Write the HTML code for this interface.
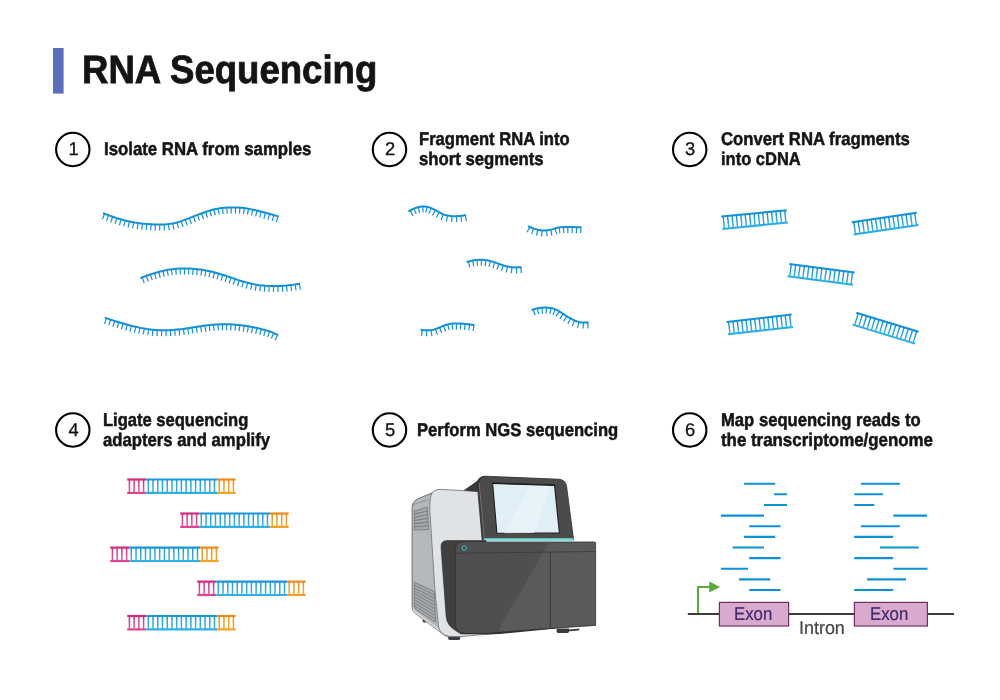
<!DOCTYPE html>
<html lang="en">
<head>
<meta charset="utf-8">
<title>RNA Sequencing</title>
<style>
html,body{margin:0;padding:0;background:#fff;}
body{width:1000px;height:700px;position:relative;overflow:hidden;font-family:"Liberation Sans",sans-serif;}
svg{position:absolute;left:0;top:0;}
.t{position:absolute;white-space:nowrap;color:#141414;transform-origin:0 0;text-rendering:geometricPrecision;}
#txt{position:absolute;left:0;top:0;width:1000px;height:700px;will-change:transform;}
.title{-webkit-text-stroke:0.8px #141414;font-weight:bold;font-size:39.5px;line-height:46px;}
.lab{-webkit-text-stroke:0.5px #141414;font-weight:bold;font-size:18.4px;line-height:20px;}
.num{-webkit-text-stroke:0.3px #111;width:34px;text-align:center;font-size:18.4px;line-height:20px;color:#111;}
.exon{-webkit-text-stroke:0.2px #3f2a6d;font-size:18.4px;line-height:20px;color:#3f2a6d;}
.intron{-webkit-text-stroke:0.2px #444;font-size:18.4px;line-height:20px;color:#444;}
</style>
</head>
<body>
<svg width="1000" height="700" viewBox="0 0 1000 700">
<defs>
<linearGradient id="lg" gradientUnits="userSpaceOnUse" x1="0" y1="0" x2="0" y2="12.4"><stop offset="0" stop-color="#1290d9"/><stop offset="1" stop-color="#38b6e8"/></linearGradient>
<linearGradient id="gb" gradientUnits="userSpaceOnUse" x1="0" y1="0" x2="0" y2="13.4"><stop offset="0" stop-color="#1e98dc"/><stop offset="1" stop-color="#3fb8ea"/></linearGradient>
<linearGradient id="gp" gradientUnits="userSpaceOnUse" x1="0" y1="0" x2="0" y2="13.4"><stop offset="0" stop-color="#d42d7c"/><stop offset="1" stop-color="#e85a9c"/></linearGradient>
<linearGradient id="go" gradientUnits="userSpaceOnUse" x1="0" y1="0" x2="0" y2="13.4"><stop offset="0" stop-color="#ee8a1c"/><stop offset="1" stop-color="#f8ae2c"/></linearGradient>
</defs>
<rect x="53" y="48" width="10.6" height="45.6" fill="#5b6ebf"/>
<circle cx="72.8" cy="149.5" r="16.7" fill="#fff" stroke="#000" stroke-width="2.1"/>
<circle cx="389.5" cy="149.5" r="16.7" fill="#fff" stroke="#000" stroke-width="2.1"/>
<circle cx="689.7" cy="149.5" r="16.7" fill="#fff" stroke="#000" stroke-width="2.1"/>
<circle cx="72.8" cy="430.0" r="16.7" fill="#fff" stroke="#000" stroke-width="2.1"/>
<circle cx="389.5" cy="430.0" r="16.7" fill="#fff" stroke="#000" stroke-width="2.1"/>
<circle cx="689.7" cy="430.0" r="16.7" fill="#fff" stroke="#000" stroke-width="2.1"/>
<g id="p1">
<path d="M102.85 213.10 L104.57 213.74 L106.93 214.63 L109.74 215.68 L112.81 216.79 L115.96 217.87 L119.00 218.80 L122.00 219.63 L125.12 220.44 L128.32 221.22 L131.56 221.93 L134.80 222.57 L138.00 223.10 L141.25 223.52 L144.61 223.85 L147.97 224.09 L151.23 224.27 L154.27 224.40 L157.00 224.50 L159.34 224.56 L161.36 224.58 L163.17 224.54 L164.88 224.46 L166.59 224.31 L168.40 224.10 L170.26 223.84 L172.06 223.54 L173.86 223.18 L175.72 222.75 L177.68 222.23 L179.80 221.60 L182.11 220.83 L184.59 219.93 L187.16 218.94 L189.79 217.90 L192.42 216.88 L195.00 215.90 L197.58 214.93 L200.21 213.93 L202.84 212.94 L205.41 211.99 L207.89 211.13 L210.20 210.40 L212.32 209.81 L214.28 209.34 L216.14 208.95 L217.94 208.63 L219.74 208.35 L221.60 208.10 L223.50 207.87 L225.40 207.70 L227.30 207.56 L229.20 207.47 L231.10 207.42 L233.00 207.40 L234.86 207.41 L236.66 207.44 L238.46 207.51 L240.32 207.64 L242.28 207.83 L244.40 208.10 L246.67 208.45 L249.04 208.87 L251.53 209.36 L254.11 209.91 L256.80 210.53 L259.60 211.20 L262.77 212.02 L266.36 213.00 L270.05 214.04 L273.53 215.04 L276.49 215.90 L278.60 216.50" fill="none" stroke="#1290d9" stroke-width="2.00" stroke-linejoin="round"/><path d="M104.54 213.72L102.46 219.35 M108.61 215.26L106.51 220.88 M112.70 216.75L110.66 222.40 M116.83 218.13L115.07 223.87 M121.01 219.36L119.41 225.14 M125.22 220.47L123.81 226.30 M129.46 221.47L128.17 227.33 M133.72 222.36L132.57 228.25 M138.01 223.10L137.24 229.05 M142.34 223.63L141.76 229.60 M146.68 224.00L146.24 229.98 M151.02 224.26L150.69 230.25 M155.37 224.44L155.16 230.44 M159.73 224.56L159.68 230.56 M164.08 224.50L164.39 230.49 M168.42 224.10L169.24 230.04 M172.71 223.41L173.89 229.29 M176.95 222.42L178.50 228.22 M181.12 221.16L183.01 226.86 M185.22 219.69L187.37 225.29 M189.28 218.11L191.47 223.69 M193.34 216.53L195.46 222.14 M197.41 215.00L199.52 220.62 M201.48 213.45L203.61 219.06 M205.57 211.94L207.54 217.60 M209.70 210.56L211.50 216.28 M213.90 209.43L215.32 215.26 M218.18 208.59L219.08 214.52 M222.49 207.99L223.20 213.95 M226.82 207.60L227.25 213.58 M231.17 207.42L231.23 213.42 M235.53 207.42L235.42 213.42 M239.88 207.61L239.48 213.59 M244.21 208.08L243.45 214.03 M248.51 208.78L247.46 214.69 M252.78 209.63L251.52 215.50 M257.03 210.58L255.62 216.42 M261.25 211.63L259.75 217.44 M265.46 212.75L263.87 218.54 M269.65 213.93L268.02 219.71 M273.84 215.13L272.17 220.90 M278.02 216.34L276.38 222.11" fill="none" stroke="#1290d9" stroke-width="1.20"/>
<path d="M140.45 278.00 L141.76 277.52 L143.55 276.85 L145.68 276.06 L148.01 275.22 L150.43 274.39 L152.80 273.65 L155.19 272.96 L157.73 272.25 L160.34 271.56 L162.97 270.91 L165.54 270.34 L168.00 269.85 L170.33 269.46 L172.57 269.15 L174.77 268.91 L176.94 268.73 L179.11 268.60 L181.30 268.50 L183.49 268.44 L185.66 268.43 L187.83 268.47 L190.03 268.56 L192.27 268.70 L194.60 268.90 L197.02 269.15 L199.53 269.45 L202.08 269.80 L204.66 270.21 L207.24 270.68 L209.80 271.20 L212.33 271.80 L214.87 272.47 L217.40 273.20 L219.93 273.96 L222.47 274.75 L225.00 275.55 L227.53 276.38 L230.07 277.26 L232.60 278.16 L235.13 279.05 L237.67 279.91 L240.20 280.70 L242.73 281.44 L245.27 282.15 L247.80 282.83 L250.33 283.45 L252.87 284.02 L255.40 284.50 L257.93 284.91 L260.47 285.24 L263.00 285.51 L265.53 285.73 L268.07 285.89 L270.60 286.00 L273.14 286.06 L275.70 286.06 L278.26 286.01 L280.80 285.91 L283.32 285.78 L285.80 285.60 L288.39 285.35 L291.15 285.01 L293.88 284.62 L296.39 284.25 L298.51 283.92 L300.05 283.70" fill="none" stroke="#1290d9" stroke-width="2.00" stroke-linejoin="round"/><path d="M142.14 277.38L144.24 283.00 M146.22 275.87L148.25 281.51 M150.32 274.43L152.26 280.11 M154.48 273.16L156.15 278.93 M158.67 272.00L160.20 277.81 M162.88 270.94L164.32 276.76 M167.13 270.02L168.30 275.91 M171.42 269.31L172.24 275.26 M175.74 268.83L176.25 274.81 M180.08 268.55L180.34 274.55 M184.43 268.44L184.45 274.44 M188.77 268.51L188.53 274.51 M193.11 268.77L192.61 274.75 M197.44 269.20L196.72 275.16 M201.75 269.76L200.93 275.70 M206.04 270.46L204.98 276.36 M210.30 271.32L208.93 277.16 M214.52 272.38L212.98 278.18 M218.69 273.59L216.95 279.33 M222.85 274.87L221.05 280.60 M226.99 276.20L225.12 281.90 M231.10 277.62L229.08 283.28 M235.19 279.07L233.27 284.76 M239.33 280.43L237.54 286.16 M243.50 281.65L241.87 287.43 M247.69 282.80L246.14 288.60 M251.92 283.81L250.62 289.66 M256.19 284.63L255.24 290.55 M260.49 285.24L259.85 291.21 M264.82 285.67L264.32 291.64 M269.16 285.94L268.89 291.93 M273.50 286.06L273.50 292.06 M277.85 286.02L277.97 292.02 M282.20 285.84L282.53 291.83 M286.53 285.53L287.11 291.50 M290.85 285.04L291.59 291.00 M295.16 284.43L296.05 290.37 M299.46 283.79L300.32 289.72" fill="none" stroke="#1290d9" stroke-width="1.20"/>
<path d="M104.75 317.60 L106.29 318.12 L108.41 318.84 L110.92 319.69 L113.65 320.60 L116.41 321.49 L119.00 322.30 L121.48 323.04 L124.00 323.79 L126.54 324.52 L129.10 325.22 L131.66 325.88 L134.20 326.50 L136.73 327.08 L139.27 327.62 L141.80 328.13 L144.33 328.59 L146.87 329.00 L149.40 329.35 L151.93 329.64 L154.47 329.88 L157.00 330.06 L159.53 330.19 L162.07 330.27 L164.60 330.30 L167.13 330.27 L169.67 330.17 L172.20 330.02 L174.73 329.83 L177.27 329.61 L179.80 329.35 L182.33 329.05 L184.87 328.69 L187.40 328.30 L189.93 327.89 L192.47 327.48 L195.00 327.10 L197.53 326.73 L200.07 326.34 L202.60 325.96 L205.13 325.60 L207.67 325.27 L210.20 325.00 L212.73 324.77 L215.27 324.57 L217.80 324.41 L220.33 324.29 L222.87 324.21 L225.40 324.20 L227.93 324.24 L230.47 324.34 L233.00 324.49 L235.53 324.68 L238.07 324.92 L240.60 325.20 L243.16 325.53 L245.74 325.92 L248.32 326.35 L250.87 326.81 L253.38 327.30 L255.80 327.80 L258.18 328.32 L260.53 328.87 L262.83 329.45 L265.05 330.04 L267.15 330.64 L269.10 331.25 L270.97 331.91 L272.78 332.63 L274.48 333.37 L276.00 334.05 L277.26 334.63 L278.20 335.05" fill="none" stroke="#1290d9" stroke-width="2.00" stroke-linejoin="round"/><path d="M106.46 318.17L104.53 323.86 M110.59 319.57L108.67 325.26 M114.73 320.95L112.88 326.65 M118.89 322.27L117.11 327.99 M123.07 323.51L121.37 329.27 M127.27 324.72L125.68 330.50 M131.48 325.84L129.97 331.65 M135.73 326.85L134.40 332.70 M139.99 327.77L138.81 333.65 M144.28 328.58L143.20 334.48 M148.59 329.24L147.77 335.18 M152.93 329.73L152.37 335.71 M157.28 330.08L156.97 336.07 M161.64 330.26L161.45 336.26 M166.00 330.28L166.08 336.28 M170.36 330.13L170.71 336.12 M174.72 329.83L175.17 335.82 M179.06 329.42L179.66 335.39 M183.39 328.90L184.23 334.84 M187.71 328.25L188.66 334.17 M192.01 327.55L192.96 333.48 M196.33 326.90L197.20 332.84 M200.64 326.25L201.54 332.19 M204.96 325.62L205.81 331.56 M209.29 325.10L209.94 331.06 M213.64 324.70L214.11 330.68 M217.99 324.40L218.28 330.39 M222.35 324.23L222.52 330.23 M226.72 324.22L226.61 330.22 M231.08 324.38L230.73 330.37 M235.43 324.67L234.97 330.66 M239.77 325.11L239.11 331.07 M244.10 325.67L243.21 331.61 M248.41 326.36L247.33 332.27 M252.69 327.17L251.55 333.06 M256.97 328.06L255.68 333.92 M261.22 329.05L259.76 334.87 M265.44 330.15L263.78 335.92 M269.61 331.43L267.62 337.09 M273.67 333.02L271.29 338.52 M277.65 334.81L275.22 340.29" fill="none" stroke="#1290d9" stroke-width="1.20"/>
</g>
<g id="p2">
<path d="M408.50 211.60 L409.19 211.20 L410.13 210.63 L411.25 209.96 L412.48 209.26 L413.75 208.62 L415.00 208.10 L416.26 207.68 L417.59 207.29 L418.97 206.96 L420.35 206.69 L421.71 206.49 L423.00 206.40 L424.22 206.41 L425.41 206.50 L426.56 206.68 L427.70 206.92 L428.84 207.23 L430.00 207.60 L431.17 208.05 L432.33 208.60 L433.50 209.21 L434.67 209.85 L435.83 210.49 L437.00 211.10 L438.16 211.71 L439.30 212.34 L440.44 212.97 L441.59 213.58 L442.78 214.13 L444.00 214.60 L445.28 214.99 L446.59 215.31 L447.94 215.58 L449.30 215.80 L450.66 215.97 L452.00 216.10 L453.36 216.17 L454.74 216.18 L456.12 216.14 L457.48 216.07 L458.78 215.99 L460.00 215.90 L461.19 215.79 L462.37 215.65 L463.50 215.49 L464.52 215.33 L465.37 215.19 L466.00 215.10" fill="none" stroke="#1290d9" stroke-width="2.00" stroke-linejoin="round"/><path d="M410.05 210.68L413.17 215.80 M413.97 208.53L416.28 214.07 M418.22 207.14L419.65 212.97 M422.64 206.43L423.08 212.41 M427.09 206.79L425.82 212.65 M431.35 208.14L428.81 213.57 M435.32 210.21L432.43 215.47 M439.27 212.33L436.36 217.57 M443.28 214.32L441.14 219.93 M447.59 215.51L446.41 221.39 M452.03 216.10L451.71 222.09 M456.50 216.12L456.81 222.12 M460.97 215.81L461.51 221.79 M465.41 215.19L466.29 221.12" fill="none" stroke="#1290d9" stroke-width="1.20"/>
<path d="M528.00 226.10 L528.65 226.38 L529.56 226.79 L530.62 227.26 L531.78 227.75 L532.93 228.21 L534.00 228.60 L535.01 228.92 L536.04 229.22 L537.06 229.49 L538.07 229.73 L539.06 229.93 L540.00 230.10 L540.87 230.23 L541.67 230.34 L542.44 230.41 L543.22 230.44 L544.06 230.44 L545.00 230.40 L546.06 230.32 L547.22 230.19 L548.44 230.03 L549.67 229.84 L550.87 229.63 L552.00 229.40 L553.06 229.13 L554.07 228.81 L555.06 228.47 L556.04 228.13 L557.01 227.83 L558.00 227.60 L558.98 227.44 L559.93 227.32 L560.88 227.24 L561.85 227.18 L562.88 227.14 L564.00 227.10 L565.20 227.07 L566.46 227.06 L567.78 227.06 L569.15 227.07 L570.56 227.08 L572.00 227.10 L573.61 227.12 L575.41 227.16 L577.25 227.20 L578.98 227.24 L580.45 227.28 L581.50 227.30" fill="none" stroke="#1290d9" stroke-width="2.00" stroke-linejoin="round"/><path d="M529.65 226.83L527.23 232.32 M533.67 228.48L531.62 234.12 M537.85 229.67L536.47 235.51 M542.14 230.38L541.60 236.36 M546.48 230.27L547.12 236.24 M550.78 229.64L551.83 235.55 M554.97 228.50L556.93 234.17 M559.17 227.41L559.90 233.37 M563.51 227.12L563.72 233.11 M567.85 227.06L567.81 233.06 M572.20 227.10L572.11 233.10 M576.55 227.18L576.42 233.18 M580.90 227.29L580.76 233.28" fill="none" stroke="#1290d9" stroke-width="1.20"/>
<path d="M466.50 262.10 L467.20 261.90 L468.17 261.62 L469.31 261.29 L470.56 260.95 L471.81 260.64 L473.00 260.40 L474.14 260.22 L475.30 260.08 L476.47 259.96 L477.65 259.88 L478.83 259.82 L480.00 259.80 L481.17 259.80 L482.33 259.84 L483.50 259.90 L484.67 260.00 L485.83 260.13 L487.00 260.30 L488.17 260.52 L489.33 260.78 L490.50 261.07 L491.67 261.40 L492.83 261.74 L494.00 262.10 L495.17 262.48 L496.33 262.90 L497.50 263.34 L498.67 263.78 L499.83 264.20 L501.00 264.60 L502.17 264.98 L503.33 265.35 L504.50 265.71 L505.67 266.04 L506.83 266.34 L508.00 266.60 L509.17 266.82 L510.35 267.00 L511.53 267.14 L512.70 267.26 L513.86 267.34 L515.00 267.40 L516.19 267.41 L517.44 267.37 L518.69 267.30 L519.83 267.22 L520.80 267.15 L521.50 267.10" fill="none" stroke="#1290d9" stroke-width="2.00" stroke-linejoin="round"/><path d="M468.23 261.60L469.89 267.36 M472.58 260.49L473.76 266.37 M477.03 259.92L477.46 265.91 M481.52 259.81L481.35 265.81 M485.99 260.15L485.12 266.09 M490.39 261.05L488.91 266.86 M494.70 262.33L492.83 268.03 M498.92 263.87L496.86 269.50 M503.17 265.30L501.35 271.01 M507.50 266.49L506.20 272.35 M511.94 267.18L511.35 273.15 M516.42 267.40L516.61 273.40 M520.90 267.14L521.29 273.13" fill="none" stroke="#1290d9" stroke-width="1.20"/>
<path d="M420.50 329.80 L421.09 329.86 L421.91 329.96 L422.88 330.06 L423.93 330.17 L424.99 330.25 L426.00 330.30 L426.97 330.33 L427.96 330.35 L428.97 330.36 L429.98 330.33 L430.99 330.25 L432.00 330.10 L433.00 329.88 L434.00 329.59 L435.00 329.24 L436.00 328.87 L437.00 328.48 L438.00 328.10 L439.00 327.70 L440.00 327.27 L441.00 326.83 L442.00 326.39 L443.00 325.98 L444.00 325.60 L444.99 325.26 L445.96 324.93 L446.94 324.62 L447.93 324.35 L448.94 324.10 L450.00 323.90 L451.10 323.74 L452.22 323.61 L453.38 323.51 L454.56 323.45 L455.76 323.41 L457.00 323.40 L458.26 323.42 L459.54 323.47 L460.84 323.54 L462.19 323.64 L463.57 323.76 L465.00 323.90 L466.61 324.07 L468.41 324.29 L470.25 324.53 L471.98 324.76 L473.45 324.96 L474.50 325.10" fill="none" stroke="#1290d9" stroke-width="2.00" stroke-linejoin="round"/><path d="M422.29 330.00L421.63 335.96 M426.68 330.32L426.51 336.32 M431.08 330.23L431.94 336.17 M435.33 329.12L437.42 334.74 M439.43 327.52L441.79 333.03 M443.48 325.80L445.59 331.41 M447.66 324.42L449.28 330.20 M451.99 323.63L452.67 329.60 M456.38 323.41L456.44 329.41 M460.78 323.54L460.43 329.53 M465.17 323.92L464.52 329.88 M469.54 324.44L468.77 330.39 M473.91 325.02L473.12 330.97" fill="none" stroke="#1290d9" stroke-width="1.20"/>
<path d="M531.50 310.10 L532.08 309.90 L532.87 309.63 L533.81 309.30 L534.85 308.96 L535.93 308.65 L537.00 308.40 L538.08 308.20 L539.22 308.02 L540.41 307.86 L541.61 307.74 L542.82 307.65 L544.00 307.60 L545.18 307.59 L546.37 307.61 L547.56 307.68 L548.74 307.77 L549.89 307.91 L551.00 308.10 L552.06 308.33 L553.07 308.59 L554.06 308.90 L555.04 309.25 L556.01 309.65 L557.00 310.10 L558.00 310.62 L559.00 311.20 L560.00 311.84 L561.00 312.50 L562.00 313.16 L563.00 313.80 L564.00 314.44 L565.00 315.09 L566.00 315.74 L567.00 316.39 L568.00 317.01 L569.00 317.60 L570.00 318.16 L571.00 318.70 L572.00 319.23 L573.00 319.72 L574.00 320.18 L575.00 320.60 L575.98 320.99 L576.94 321.35 L577.91 321.68 L578.89 321.96 L579.91 322.21 L581.00 322.40 L582.25 322.53 L583.67 322.59 L585.12 322.61 L586.50 322.61 L587.67 322.60 L588.50 322.60" fill="none" stroke="#1290d9" stroke-width="2.00" stroke-linejoin="round"/><path d="M533.20 309.51L535.16 315.18 M537.53 308.30L538.62 314.20 M541.98 307.71L542.42 313.69 M546.47 307.62L546.17 313.61 M550.94 308.09L549.95 314.01 M555.25 309.34L552.98 314.89 M559.26 311.37L556.04 316.43 M563.03 313.82L559.80 318.88 M566.80 316.26L563.55 321.30 M570.68 318.53L567.81 323.80 M574.72 320.48L572.39 326.01 M578.96 321.98L577.57 327.82 M583.40 322.58L583.13 328.57 M587.90 322.60L587.88 328.60" fill="none" stroke="#1290d9" stroke-width="1.20"/>
</g>
<g id="p3">
<g transform="translate(721.20 216.60) rotate(-5.58)"><path d="M2.00 0V12.40 M6.42 0V12.40 M10.83 0V12.40 M15.25 0V12.40 M19.66 0V12.40 M24.08 0V12.40 M28.49 0V12.40 M32.91 0V12.40 M37.32 0V12.40 M41.74 0V12.40 M46.15 0V12.40 M50.57 0V12.40 M54.98 0V12.40 M59.40 0V12.40 M63.81 0V12.40" stroke="url(#lg)" stroke-width="1.45" fill="none"/><path d="M0 0H65.81" stroke="#1290d9" stroke-width="2.00"/><path d="M0 12.40H65.81" stroke="#2dade5" stroke-width="2.00"/></g>
<g transform="translate(851.80 222.30) rotate(-8.33)"><path d="M2.00 0V12.40 M6.40 0V12.40 M10.80 0V12.40 M15.20 0V12.40 M19.60 0V12.40 M24.00 0V12.40 M28.40 0V12.40 M32.80 0V12.40 M37.20 0V12.40 M41.59 0V12.40 M45.99 0V12.40 M50.39 0V12.40 M54.79 0V12.40 M59.19 0V12.40 M63.59 0V12.40" stroke="url(#lg)" stroke-width="1.45" fill="none"/><path d="M0 0H65.59" stroke="#1290d9" stroke-width="2.00"/><path d="M0 12.40H65.59" stroke="#2dade5" stroke-width="2.00"/></g>
<g transform="translate(789.30 264.00) rotate(7.42)"><path d="M2.00 0V12.40 M6.42 0V12.40 M10.84 0V12.40 M15.25 0V12.40 M19.67 0V12.40 M24.09 0V12.40 M28.51 0V12.40 M32.93 0V12.40 M37.34 0V12.40 M41.76 0V12.40 M46.18 0V12.40 M50.60 0V12.40 M55.02 0V12.40 M59.43 0V12.40 M63.85 0V12.40" stroke="url(#lg)" stroke-width="1.45" fill="none"/><path d="M0 0H65.85" stroke="#1290d9" stroke-width="2.00"/><path d="M0 12.40H65.85" stroke="#2dade5" stroke-width="2.00"/></g>
<g transform="translate(726.60 322.00) rotate(-6.49)"><path d="M2.00 0V12.40 M6.39 0V12.40 M10.77 0V12.40 M15.16 0V12.40 M19.55 0V12.40 M23.94 0V12.40 M28.32 0V12.40 M32.71 0V12.40 M37.10 0V12.40 M41.48 0V12.40 M45.87 0V12.40 M50.26 0V12.40 M54.65 0V12.40 M59.03 0V12.40 M63.42 0V12.40" stroke="url(#lg)" stroke-width="1.45" fill="none"/><path d="M0 0H65.42" stroke="#1290d9" stroke-width="2.00"/><path d="M0 12.40H65.42" stroke="#2dade5" stroke-width="2.00"/></g>
<g transform="translate(856.30 312.80) rotate(16.96)"><path d="M2.00 0V12.40 M6.37 0V12.40 M10.73 0V12.40 M15.10 0V12.40 M19.47 0V12.40 M23.83 0V12.40 M28.20 0V12.40 M32.57 0V12.40 M36.93 0V12.40 M41.30 0V12.40 M45.67 0V12.40 M50.03 0V12.40 M54.40 0V12.40 M58.77 0V12.40 M63.13 0V12.40" stroke="url(#lg)" stroke-width="1.45" fill="none"/><path d="M0 0H65.13" stroke="#1290d9" stroke-width="2.00"/><path d="M0 12.40H65.13" stroke="#2dade5" stroke-width="2.00"/></g>
</g>
<g id="p4">
<g transform="translate(127.20 479.50)"><path d="M2.20 0V13.40 M6.93 0V13.40 M11.65 0V13.40 M16.38 0V13.40" stroke="url(#gp)" stroke-width="1.5" fill="none"/><path d="M0.00 0H19.05" stroke="#d42a7b" stroke-width="2.2"/><path d="M0.00 13.40H19.05" stroke="#e0448e" stroke-width="2.2"/><path d="M21.11 0V13.40 M25.84 0V13.40 M30.56 0V13.40 M35.29 0V13.40 M40.02 0V13.40 M44.75 0V13.40 M49.47 0V13.40 M54.20 0V13.40 M58.93 0V13.40 M63.65 0V13.40 M68.38 0V13.40 M73.11 0V13.40 M77.84 0V13.40 M82.56 0V13.40 M87.29 0V13.40" stroke="url(#gb)" stroke-width="1.5" fill="none"/><path d="M19.05 0H89.95" stroke="#1896dc" stroke-width="2.2"/><path d="M19.05 13.40H89.95" stroke="#2eb0e6" stroke-width="2.2"/><path d="M92.02 0V13.40 M96.75 0V13.40 M101.47 0V13.40 M106.20 0V13.40" stroke="url(#go)" stroke-width="1.5" fill="none"/><path d="M89.95 0H108.40" stroke="#ee8a1c" stroke-width="2.2"/><path d="M89.95 13.40H108.40" stroke="#f6a11f" stroke-width="2.2"/></g>
<g transform="translate(180.20 513.50)"><path d="M2.20 0V13.40 M6.93 0V13.40 M11.65 0V13.40 M16.38 0V13.40" stroke="url(#gp)" stroke-width="1.5" fill="none"/><path d="M0.00 0H19.05" stroke="#d42a7b" stroke-width="2.2"/><path d="M0.00 13.40H19.05" stroke="#e0448e" stroke-width="2.2"/><path d="M21.11 0V13.40 M25.84 0V13.40 M30.56 0V13.40 M35.29 0V13.40 M40.02 0V13.40 M44.75 0V13.40 M49.47 0V13.40 M54.20 0V13.40 M58.93 0V13.40 M63.65 0V13.40 M68.38 0V13.40 M73.11 0V13.40 M77.84 0V13.40 M82.56 0V13.40 M87.29 0V13.40" stroke="url(#gb)" stroke-width="1.5" fill="none"/><path d="M19.05 0H89.95" stroke="#1896dc" stroke-width="2.2"/><path d="M19.05 13.40H89.95" stroke="#2eb0e6" stroke-width="2.2"/><path d="M92.02 0V13.40 M96.75 0V13.40 M101.47 0V13.40 M106.20 0V13.40" stroke="url(#go)" stroke-width="1.5" fill="none"/><path d="M89.95 0H108.40" stroke="#ee8a1c" stroke-width="2.2"/><path d="M89.95 13.40H108.40" stroke="#f6a11f" stroke-width="2.2"/></g>
<g transform="translate(110.20 547.60)"><path d="M2.20 0V13.40 M6.93 0V13.40 M11.65 0V13.40 M16.38 0V13.40" stroke="url(#gp)" stroke-width="1.5" fill="none"/><path d="M0.00 0H19.05" stroke="#d42a7b" stroke-width="2.2"/><path d="M0.00 13.40H19.05" stroke="#e0448e" stroke-width="2.2"/><path d="M21.11 0V13.40 M25.84 0V13.40 M30.56 0V13.40 M35.29 0V13.40 M40.02 0V13.40 M44.75 0V13.40 M49.47 0V13.40 M54.20 0V13.40 M58.93 0V13.40 M63.65 0V13.40 M68.38 0V13.40 M73.11 0V13.40 M77.84 0V13.40 M82.56 0V13.40 M87.29 0V13.40" stroke="url(#gb)" stroke-width="1.5" fill="none"/><path d="M19.05 0H89.95" stroke="#1896dc" stroke-width="2.2"/><path d="M19.05 13.40H89.95" stroke="#2eb0e6" stroke-width="2.2"/><path d="M92.02 0V13.40 M96.75 0V13.40 M101.47 0V13.40 M106.20 0V13.40" stroke="url(#go)" stroke-width="1.5" fill="none"/><path d="M89.95 0H108.40" stroke="#ee8a1c" stroke-width="2.2"/><path d="M89.95 13.40H108.40" stroke="#f6a11f" stroke-width="2.2"/></g>
<g transform="translate(197.20 581.60)"><path d="M2.20 0V13.40 M6.93 0V13.40 M11.65 0V13.40 M16.38 0V13.40" stroke="url(#gp)" stroke-width="1.5" fill="none"/><path d="M0.00 0H19.05" stroke="#d42a7b" stroke-width="2.2"/><path d="M0.00 13.40H19.05" stroke="#e0448e" stroke-width="2.2"/><path d="M21.11 0V13.40 M25.84 0V13.40 M30.56 0V13.40 M35.29 0V13.40 M40.02 0V13.40 M44.75 0V13.40 M49.47 0V13.40 M54.20 0V13.40 M58.93 0V13.40 M63.65 0V13.40 M68.38 0V13.40 M73.11 0V13.40 M77.84 0V13.40 M82.56 0V13.40 M87.29 0V13.40" stroke="url(#gb)" stroke-width="1.5" fill="none"/><path d="M19.05 0H89.95" stroke="#1896dc" stroke-width="2.2"/><path d="M19.05 13.40H89.95" stroke="#2eb0e6" stroke-width="2.2"/><path d="M92.02 0V13.40 M96.75 0V13.40 M101.47 0V13.40 M106.20 0V13.40" stroke="url(#go)" stroke-width="1.5" fill="none"/><path d="M89.95 0H108.40" stroke="#ee8a1c" stroke-width="2.2"/><path d="M89.95 13.40H108.40" stroke="#f6a11f" stroke-width="2.2"/></g>
<g transform="translate(127.20 616.00)"><path d="M2.20 0V13.40 M6.93 0V13.40 M11.65 0V13.40 M16.38 0V13.40" stroke="url(#gp)" stroke-width="1.5" fill="none"/><path d="M0.00 0H19.05" stroke="#d42a7b" stroke-width="2.2"/><path d="M0.00 13.40H19.05" stroke="#e0448e" stroke-width="2.2"/><path d="M21.11 0V13.40 M25.84 0V13.40 M30.56 0V13.40 M35.29 0V13.40 M40.02 0V13.40 M44.75 0V13.40 M49.47 0V13.40 M54.20 0V13.40 M58.93 0V13.40 M63.65 0V13.40 M68.38 0V13.40 M73.11 0V13.40 M77.84 0V13.40 M82.56 0V13.40 M87.29 0V13.40" stroke="url(#gb)" stroke-width="1.5" fill="none"/><path d="M19.05 0H89.95" stroke="#1896dc" stroke-width="2.2"/><path d="M19.05 13.40H89.95" stroke="#2eb0e6" stroke-width="2.2"/><path d="M92.02 0V13.40 M96.75 0V13.40 M101.47 0V13.40 M106.20 0V13.40" stroke="url(#go)" stroke-width="1.5" fill="none"/><path d="M89.95 0H108.40" stroke="#ee8a1c" stroke-width="2.2"/><path d="M89.95 13.40H108.40" stroke="#f6a11f" stroke-width="2.2"/></g>
</g>
<g id="p5" stroke-linejoin="round">
<!-- feet -->
<path d="M448.2 635.5H460.2V638.6Q460.2 640 458.8 640H449.6Q448.2 640 448.2 638.6Z" fill="#3a3a3c"/>
<path d="M556.6 628.5H569V631.6Q569 633 567.6 633H558Q556.6 633 556.6 631.6Z" fill="#3a3a3c"/>
<path d="M422.8 618H427.2V621.2Q427.2 622.6 425 622.6Q422.8 622.6 422.8 621.2Z" fill="#3a3a3c"/>
<path d="M569 629.6L580 628.6L578.5 630.6L569 631.2Z" fill="#3a3a3c"/>
<!-- grey side face -->
<path d="M412.1 508Q412 501.5 417.5 499L431 493.3L440 489.4L442 560L449 636.6Q446 636.4 443.5 634.5L415.5 613.6Q412.1 611 412.1 606.5Z" fill="#b4b8ba" stroke="#707375" stroke-width="1"/>
<path d="M412.6 504.6L428.4 499.9" stroke="#7c7f81" stroke-width="0.6" fill="none"/>
<path d="M413.2 607.5Q413.4 610.6 416 612.6L443 632.8" stroke="#d9dcde" stroke-width="1.6" fill="none"/>
<!-- vents -->
<path d="M414.3 511L427.2 507.2L428.6 529.4L414.3 530.2Z" fill="#a4a8aa" stroke="#6f7274" stroke-width="0.7"/>
<path d="M414.3 514.2L427.4 510.9M414.3 517.4L427.6 514.6M414.3 520.6L427.9 518.3M414.3 523.8L428.1 522M414.3 527L428.4 525.7" stroke="#6a6d6f" stroke-width="0.8" fill="none"/>
<path d="M414.3 582.2L434.4 591.6L435.6 622.4L414.3 608.4Z" fill="#a4a8aa" stroke="#6f7274" stroke-width="0.7"/>
<path d="M414.3 585.1L434.5 595M414.3 588L434.6 598.4M414.3 590.9L434.7 601.9M414.3 593.8L434.9 605.3M414.3 596.8L435 608.7M414.3 599.7L435.1 612.1M414.3 602.6L435.3 615.6M414.3 605.5L435.4 619" stroke="#6f7274" stroke-width="0.7" fill="none"/>
<!-- light front-left panel -->
<path d="M431.2 495.2Q432.6 489.6 440 489.4L482 491.6L486 546L500 546L500 633L461 636.6L450 636.6Q440.4 635 438.6 627L434.9 590L429.8 510Q429.6 499.5 431.2 495.2Z" fill="#dfe3e5" stroke="#7a7d7f" stroke-width="0.9"/>
<!-- screen housing side -->
<path d="M464.3 490.2L484.5 476.2L479 481L477.6 491.5Z" fill="#39393a" stroke="#2b2b2c" stroke-width="0.6"/>
<!-- screen housing front -->
<path d="M477.3 484.5Q477 476.2 485.5 476.2L558.5 479.2Q565.6 479.6 566.6 486.5L573.6 540H482.2Z" fill="#3b3b3c" stroke="#2f2f30" stroke-width="0.8"/><path d="M479.6 484.5Q479.4 477 486 476.7L558.5 479.5Q565.3 479.9 566.3 486.5L573.2 539.8H484.6Z" fill="#4b4b4c"/><path d="M479.2 483L484.2 538" stroke="#8b8b8c" stroke-width="0.7" fill="none"/>
<!-- screen -->
<path d="M492.6 483.1L554.5 485.2L559.4 532.9L496.9 533.3Z" fill="#e0eef5" stroke="#1f1f20" stroke-width="1.1"/>
<path d="M530.4 484.6L550.2 485.2L534.1 533.1L504.1 533.2Z" fill="#e8f4f9" opacity="0.75"/>
<path d="M492.2 482.4L554.9 484.5L555 485.9L492.4 483.9Z" fill="#1f1f20"/>
<!-- cyan strip -->
<path d="M483.7 538.2H573.3L573.7 541.1H484Z" fill="#7edcd9"/>
<!-- body dark side -->
<path d="M441 547Q440.9 540.6 447 540.6H486V634H461Q451.8 628.5 449.2 625Q446.6 621.5 446.2 617Z" fill="#3f3f40" stroke="#2b2b2c" stroke-width="0.6"/>
<!-- body underside shadow -->
<path d="M486 632L500 630.5L556 626.5L556 628.6L500 633.9L486 634.4Z" fill="#333334"/>
<!-- body front -->
<path d="M455.5 549.4Q455.5 542 463 542H594.4Q595.6 542 595.6 543.2V625.4L550.4 628.4L500 632.2L489 633H466Q455.5 633 455.5 622.5Z" fill="#5a5a5b" stroke="#303031" stroke-width="0.8"/>
<!-- darker left of diagonal -->
<path d="M455.9 549.4Q455.9 542.4 463 542.4H549.6L500.2 627.8L499.8 631.8L489 632.6H466Q455.9 632.6 455.9 622.5Z" fill="#4f4f50"/>
<path d="M549.8 542L500 628" stroke="#626263" stroke-width="0.6" fill="none"/>
<!-- band line & seam -->
<path d="M455.8 553.3L595.4 551.5" stroke="#3a3a3b" stroke-width="0.8" fill="none"/>
<path d="M550.4 551.8V628.2" stroke="#343435" stroke-width="0.9" fill="none"/>
<!-- indicator -->
<circle cx="464.3" cy="548.1" r="2.1" fill="#3c4546" stroke="#4ec6cb" stroke-width="0.9"/>
</g>

<g id="p6">
<path d="M744.1 483.7H775.2 M860.9 483.7H899.8 M774.1 494.3H787.0 M854.2 494.3H883.0 M764.0 505.0H787.0 M854.2 505.0H874.3 M720.9 515.6H764.0 M893.4 515.6H927.0 M749.2 526.2H780.5 M860.9 526.2H899.8 M744.1 536.9H775.2 M854.2 536.9H893.1 M732.6 547.5H764.0 M879.9 547.5H918.8 M749.2 558.1H780.5 M854.2 558.1H893.1 M720.9 568.7H748.0 M893.4 568.7H927.5 M739.1 579.4H770.2 M867.0 579.4H906.0 M749.2 590.0H780.5 M854.2 590.0H893.1" stroke="#0b92d9" stroke-width="2.1" fill="none"/>
<path d="M687.8 614H954" stroke="#3d3d3d" stroke-width="2"/>
<path d="M698 613V587H710" stroke="#5aab3c" stroke-width="2" fill="none"/>
<path d="M709.2 581.4L720.1 587L709.2 592.6Z" fill="#5aab3c"/>
<rect x="719.4" y="602.4" width="69.2" height="23.6" fill="#d9aacd" stroke="#70305f" stroke-width="1.2"/>
<rect x="854.4" y="602.4" width="73" height="23.6" fill="#d9aacd" stroke="#70305f" stroke-width="1.2"/>
</g>
</svg>
<div id="txt">
<div class="t title" style="left:81.70px;top:47px;transform:translateY(0.11px) scaleX(0.9256)">RNA Sequencing</div>
<div class="t num" style="left:56.60px;top:138.90px">1</div>
<div class="t num" style="left:373.20px;top:138.90px">2</div>
<div class="t num" style="left:673.20px;top:138.90px">3</div>
<div class="t num" style="left:56.60px;top:420.00px">4</div>
<div class="t num" style="left:373.20px;top:420.00px">5</div>
<div class="t num" style="left:673.20px;top:420.00px">6</div>
<div class="t lab" style="left:103.80px;top:139px;transform:translateY(0.02px) scaleX(0.9130)">Isolate RNA from samples</div>
<div class="t lab" style="left:419.00px;top:128px;transform:translateY(0.92px) scaleX(0.9028)">Fragment RNA into</div>
<div class="t lab" style="left:419.00px;top:149px;transform:translateY(0.12px) scaleX(0.9097)">short segments</div>
<div class="t lab" style="left:721.30px;top:128px;transform:translateY(0.92px) scaleX(0.9092)">Convert RNA fragments</div>
<div class="t lab" style="left:721.30px;top:149px;transform:translateY(0.12px) scaleX(0.8976)">into cDNA</div>
<div class="t lab" style="left:103.40px;top:410px;transform:translateY(0.02px) scaleX(0.9000)">Ligate sequencing</div>
<div class="t lab" style="left:103.40px;top:429px;transform:translateY(0.62px) scaleX(0.9078)">adapters and amplify</div>
<div class="t lab" style="left:417.30px;top:419px;transform:translateY(0.52px) scaleX(0.9033)">Perform NGS sequencing</div>
<div class="t lab" style="left:721.30px;top:410px;transform:translateY(0.02px) scaleX(0.9044)">Map sequencing reads to</div>
<div class="t lab" style="left:721.30px;top:429px;transform:translateY(0.62px) scaleX(0.9175)">the transcriptome/genome</div>
<div class="t exon" style="left:733.60px;top:603px;transform:translateY(0.62px) scaleX(0.9139)">Exon</div>
<div class="t exon" style="left:870.00px;top:603px;transform:translateY(0.62px) scaleX(0.9139)">Exon</div>
<div class="t intron" style="left:798.80px;top:617px;transform:translateY(0.82px) scaleX(0.9741)">Intron</div>
</div>
</body>
</html>
